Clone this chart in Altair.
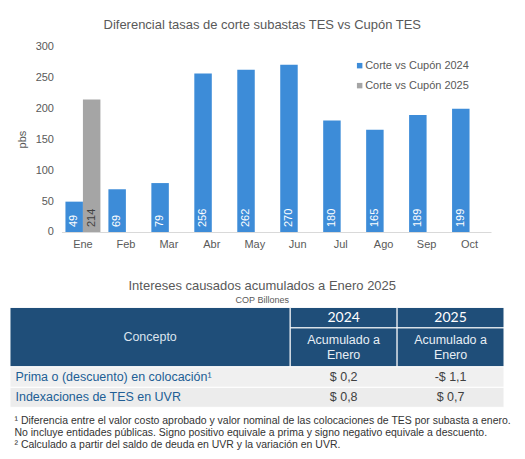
import altair as alt
import pandas as pd

# ---------------- data ----------------
months = ["Ene", "Feb", "Mar", "Abr", "May", "Jun", "Jul", "Ago", "Sep", "Oct"]
corte_2024 = [49, 69, 79, 256, 262, 270, 180, 165, 189, 199]
months_2025 = ["Ene"]
corte_2025 = [214]
series_names = ["Corte vs Cupón 2024", "Corte vs Cupón 2025"]
y_ticks = [0, 50, 100, 150, 200, 250, 300]

chart_title = "Diferencial tasas de corte subastas TES vs Cupón TES"
y_title = "pbs"

table_title = "Intereses causados acumulados a Enero 2025"
table_subtitle = "COP Billones"
header_concept = "Concepto"
header_years = ["2024", "2025"]
header_period_lines = ["Acumulado a", "Enero"]
concepts = ["Prima o (descuento) en colocación¹", "Indexaciones de TES en UVR"]
values_2024 = ["$ 0,2", "$ 0,8"]
values_2025 = ["-$ 1,1", "$ 0,7"]
footnotes = [
    "¹ Diferencia entre el valor costo aprobado y valor nominal de las colocaciones de TES por subasta a enero.",
    "No incluye entidades públicas. Signo positivo equivale a prima y signo negativo equivale a descuento.",
    "² Calculado a partir del saldo de deuda en UVR y la variación en UVR.",
]

# ---------------- styles / layout ----------------
FONT = "Liberation Sans"
series_colors = ["#3d8cd8", "#a5a5a5"]
label_colors = ["#ffffff", "#404040"]
grey_text = "#595959"
header_fill = "#1f4e79"
row_fills = ["#f0f0f0", "#ececec"]

# table geometry in table units (1 unit = 1 px)
col_edges = [0, 280.5, 387.5, 494.5]
row_edges = [0, 20.5, 59.5, 80, 100]
foot_rows = [113.5, 125.5, 137.5]
line_gap = 14.5
text_left = 5.5
foot_left = 4.5

# ---------------- bar chart ----------------
bars = pd.DataFrame({
    "mes": months + months_2025,
    "serie": [series_names[0]] * len(months) + [series_names[1]] * len(months_2025),
    "valor": corte_2024 + corte_2025,
})
bars["etiqueta"] = bars["valor"].astype(str)

x_enc = alt.X(
    "mes:N", sort=months,
    scale=alt.Scale(domain=months, paddingInner=0.186, paddingOuter=0.093),
    axis=alt.Axis(title=None, labelAngle=0, ticks=False, domainColor="#d9d9d9",
                  labelColor=grey_text, labelFontSize=11, labelFont=FONT, labelPadding=7),
)
xoff_enc = alt.XOffset("serie:N", scale=alt.Scale(domain=series_names, paddingInner=0, paddingOuter=0))

y_scale = alt.Scale(domain=[0, 300], nice=False)
y_axis = alt.Axis(values=y_ticks, title=y_title, grid=False, domain=False, ticks=False,
                  labelOverlap=False,
                  labelColor=grey_text, labelFontSize=11, labelFont=FONT, labelPadding=8,
                  titleColor=grey_text, titleFontSize=11, titleFont=FONT,
                  titleFontWeight="normal", titlePadding=8)

bar_layer = alt.Chart(bars).mark_bar().encode(
    x=x_enc,
    xOffset=xoff_enc,
    y=alt.Y("valor:Q", scale=y_scale, axis=y_axis),
    color=alt.Color("serie:N", scale=alt.Scale(domain=series_names, range=series_colors),
                    legend=alt.Legend(title=None, orient="none", legendX=293, legendY=14,
                                      symbolType="square", symbolSize=30, symbolStrokeWidth=0,
                                      labelFontSize=11, labelColor=grey_text, labelFont=FONT,
                                      rowPadding=8, labelOffset=0, padding=0)),
)

text_layer = alt.Chart(bars).mark_text(
    angle=270, align="left", baseline="middle", dx=5, fontSize=11, font=FONT
).encode(
    x=x_enc,
    xOffset=xoff_enc,
    y=alt.YDatum(0, scale=y_scale, axis=y_axis),
    text="etiqueta:N",
    color=alt.Color("serie:N", scale=alt.Scale(domain=series_names, range=label_colors), legend=None),
)

bar_chart = alt.layer(bar_layer, text_layer).resolve_scale(color="independent").properties(
    width=430, height=186,
    title=alt.TitleParams(chart_title, fontSize=13, color=grey_text, font=FONT, fontWeight="normal",
                          anchor="middle", frame="group", dx=-14, offset=8),
)

# ---------------- table ----------------
cells = []
cells.append(dict(x=col_edges[0], x2=col_edges[1], y=row_edges[0], y2=row_edges[2], fill=header_fill))
for i in range(2):
    cells.append(dict(x=col_edges[i + 1], x2=col_edges[i + 2], y=row_edges[0], y2=row_edges[1], fill=header_fill))
    cells.append(dict(x=col_edges[i + 1], x2=col_edges[i + 2], y=row_edges[1], y2=row_edges[2], fill=header_fill))
for r in range(len(concepts)):
    cells.append(dict(x=col_edges[0], x2=col_edges[3], y=row_edges[2 + r], y2=row_edges[3 + r], fill=row_fills[r]))
cells_df = pd.DataFrame(cells)


def mid(a, b):
    return (a + b) / 2


center_txt = []
center_txt.append(dict(x=mid(col_edges[0], col_edges[1]), y=mid(row_edges[0], row_edges[2]),
                       t=header_concept, c="#dce5ef", s=12.5, f="body"))
for i, yr in enumerate(header_years):
    cx = mid(col_edges[i + 1], col_edges[i + 2])
    center_txt.append(dict(x=cx, y=mid(row_edges[0], row_edges[1]), t=yr, c="#ffffff", s=14, f="year"))
    ym = mid(row_edges[1], row_edges[2])
    n = len(header_period_lines)
    for k, line in enumerate(header_period_lines):
        center_txt.append(dict(x=cx, y=ym + (k - (n - 1) / 2) * line_gap, t=line, c="#e8eef5", s=12.5, f="body"))
for r in range(len(concepts)):
    for i, vals in enumerate([values_2024, values_2025]):
        center_txt.append(dict(x=mid(col_edges[i + 1], col_edges[i + 2]), y=mid(row_edges[2 + r], row_edges[3 + r]),
                               t=vals[r], c="#404040", s=12.5, f="body"))
center_df = pd.DataFrame(center_txt)

left_txt = []
for r, c in enumerate(concepts):
    left_txt.append(dict(x=text_left, y=mid(row_edges[2 + r], row_edges[3 + r]), t=c, c="#215e95", s=12.5))
for k, fn in enumerate(footnotes):
    left_txt.append(dict(x=foot_left, y=foot_rows[k], t=fn, c="#333333", s=10.5))
left_df = pd.DataFrame(left_txt)

tx = alt.Scale(domain=[51.5, 453.5])
ty = alt.Scale(domain=[0, 145], reverse=True)

rects = alt.Chart(cells_df).mark_rect(stroke="#ffffff", strokeWidth=1).encode(
    x=alt.X("x:Q", scale=tx, axis=None),
    x2="x2:Q",
    y=alt.Y("y:Q", scale=ty, axis=None),
    y2="y2:Q",
    fill=alt.Fill("fill:N", scale=None),
)

body_center = alt.Chart(center_df).transform_filter(alt.datum.f == "body").mark_text(
    align="center", baseline="middle", font=FONT
).encode(
    x=alt.X("x:Q", scale=tx, axis=None),
    y=alt.Y("y:Q", scale=ty, axis=None),
    text="t:N",
    color=alt.Color("c:N", scale=None),
    size=alt.Size("s:Q", scale=None),
)

year_center = alt.Chart(center_df).transform_filter(alt.datum.f == "year").mark_text(
    align="center", baseline="middle", font="Lato"
).encode(
    x=alt.X("x:Q", scale=tx, axis=None),
    y=alt.Y("y:Q", scale=ty, axis=None),
    text="t:N",
    color=alt.Color("c:N", scale=None),
    size=alt.Size("s:Q", scale=None),
)

left_text = alt.Chart(left_df).mark_text(align="left", baseline="middle", font=FONT).encode(
    x=alt.X("x:Q", scale=tx, axis=None),
    y=alt.Y("y:Q", scale=ty, axis=None),
    text="t:N",
    color=alt.Color("c:N", scale=None),
    size=alt.Size("s:Q", scale=None),
)

table_chart = alt.layer(rects, body_center, year_center, left_text).properties(
    width=402, height=145,
    title=alt.TitleParams(table_title, subtitle=table_subtitle, fontSize=13, color=grey_text, font=FONT,
                          fontWeight="normal", subtitleFontSize=9, subtitleColor=grey_text,
                          subtitleFont=FONT, subtitlePadding=3, anchor="middle", frame="group", offset=2),
)

chart = alt.vconcat(bar_chart, table_chart, spacing=75.5, bounds="flush").properties(
    padding={"left": 1.5, "top": 11, "right": 5, "bottom": 5},
    background="#ffffff",
).configure_view(stroke=None)

chart.save("out.html", embed_options={"renderer": "svg", "actions": False})
